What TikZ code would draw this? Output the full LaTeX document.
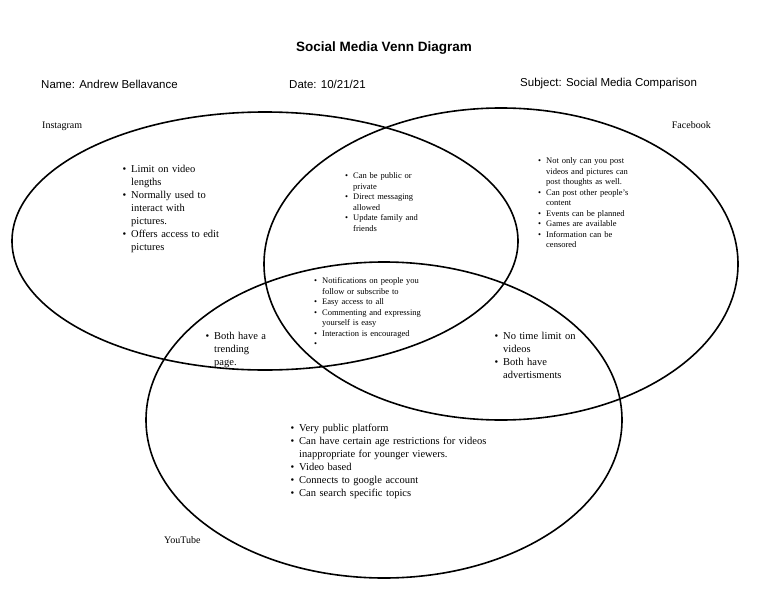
\documentclass[tikz,border=0pt]{standalone}
\usepackage{fontspec}
\setmainfont{Liberation Serif}
\newfontfamily\hdr{Liberation Sans}
\begin{document}
\begin{tikzpicture}[x=1pt,y=-1pt,
  venn/.style={draw=black,line width=1.6pt},
  lab/.style={font=\fontsize{10}{12}\selectfont,inner sep=0pt},
  hd/.style={font=\hdr\fontsize{11.5}{13}\selectfont,anchor=west,inner sep=0pt},
  lst/.style={font=\fontsize{10.5}{13}\selectfont,anchor=north west,inner sep=0pt,align=left},
  sml/.style={font=\fontsize{8.5}{10.5}\selectfont,anchor=north west,inner sep=0pt,align=left}]
\useasboundingbox[fill=white] (0,0) rectangle (768,594);
\draw[venn] (265,241) ellipse [x radius=253,y radius=129];
\draw[venn] (501,264) ellipse [x radius=237,y radius=156];
\draw[venn] (384,420) ellipse [x radius=238,y radius=158];
\node[font=\hdr\bfseries\fontsize{13.5}{15}\selectfont] (t) at (384,48) {Social Media Venn Diagram};
\node[hd] (n) at (41,84) {Name: Andrew Bellavance};
\node[hd] (d) at (289,84) {Date: 10/21/21};
\node[hd] (s) at (520,84) {Subject: Social Media Comparison};
\node[lab,anchor=west] (ig) at (42,126) {Instagram};
\node[lab,anchor=east] (fb) at (711,125) {Facebook};
\node[lab,anchor=west] (yt) at (164,540) {YouTube};
\node[lst,text width=115pt] (a) at (106,151) {\begin{itemize}\setlength{\itemsep}{0pt}\setlength{\parskip}{0pt}
\item Limit on video lengths \item Normally used to interact with pictures. \item Offers access to edit pictures\end{itemize}};
\node[sml,text width=90pt] (b) at (328,160) {\begin{itemize}\setlength{\itemsep}{0pt}\setlength{\parskip}{0pt}
\item Can be public or private \item Direct messaging allowed \item Update family and friends\end{itemize}};
\node[sml,text width=115pt] (c) at (521,145) {\begin{itemize}\setlength{\itemsep}{0pt}\setlength{\parskip}{0pt}
\item Not only can you post videos and pictures can post thoughts as well. \item Can post other people's content \item Events can be planned \item Games are available \item Information can be censored\end{itemize}};
\node[sml,text width=140pt] (e) at (297,265) {\begin{itemize}\setlength{\itemsep}{0pt}\setlength{\parskip}{0pt}
\item Notifications on people you follow or subscribe to \item Easy access to all \item Commenting and expressing yourself is easy \item Interaction is encouraged \item[\textbullet] \end{itemize}};
\node[lst,text width=82pt] (f) at (189,318) {\begin{itemize}\setlength{\itemsep}{0pt}\setlength{\parskip}{0pt}
\item Both have a trending page.\end{itemize}};
\node[lst,text width=100pt] (g) at (478,318) {\begin{itemize}\setlength{\itemsep}{0pt}\setlength{\parskip}{0pt}
\item No time limit on videos \item Both have advertisments\end{itemize}};
\node[lst,text width=220pt] (h) at (274,410) {\begin{itemize}\setlength{\itemsep}{0pt}\setlength{\parskip}{0pt}
\item Very public platform \item Can have certain age restrictions for videos inappropriate for younger viewers. \item Video based \item Connects to google account \item Can search specific topics\end{itemize}};
\end{tikzpicture}
\end{document}
